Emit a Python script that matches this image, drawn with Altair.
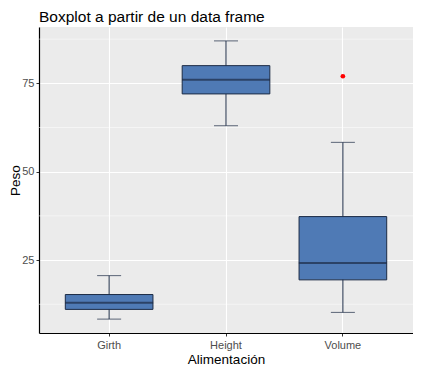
import altair as alt
import pandas as pd

categories = ["Girth", "Height", "Volume"]
whisker_low = [8.3, 63.0, 10.2]
q1 = [11.05, 72.0, 19.4]
median = [12.9, 76.0, 24.2]
q3 = [15.25, 80.0, 37.3]
whisker_high = [20.6, 87.0, 58.3]
outlier_cat = ["Volume"]
outlier_val = [77.0]
minor_grid = [12.5, 37.5, 62.5, 87.5]

df = pd.DataFrame({"cat": categories, "lo": whisker_low, "q1": q1, "med": median,
                   "q3": q3, "hi": whisker_high})
out = pd.DataFrame({"cat": outlier_cat, "val": outlier_val})
grid = pd.DataFrame({"g": minor_grid})

yscale = alt.Scale(domain=[4.37, 90.93], nice=False, zero=False)
xscale = alt.Scale(domain=categories, paddingInner=0, paddingOuter=0.1)

xax = alt.Axis(title="Alimentación", labelAngle=0, grid=True, gridColor="white",
               gridWidth=1.1, domainColor="black", domainWidth=1.2, tickColor="#333333",
               tickSize=3, labelColor="#4d4d4d", labelFontSize=11, labelPadding=3,
               titleFontSize=13.5, titleFontWeight="normal", titleColor="black",
               titlePadding=2, labelFont="Liberation Sans", titleFont="Liberation Sans")
yax = alt.Axis(title="Peso", values=[25, 50, 75], grid=True, gridColor="white",
               gridWidth=1.1, domainColor="black", domainWidth=1.2, tickColor="#333333",
               tickSize=3, labelColor="#4d4d4d", labelFontSize=11, labelPadding=2,
               titleFontSize=13.5, titleFontWeight="normal", titleColor="black",
               titleX=-20, titleBaseline="alphabetic",
               labelFont="Liberation Sans", titleFont="Liberation Sans")

base = alt.Chart(df)

minor = alt.Chart(grid).mark_rule(color="white", strokeWidth=0.5).encode(
    y=alt.Y("g:Q", scale=yscale, axis=yax))

whisk = base.mark_rule(color="#1c2b45", strokeWidth=1).encode(
    x=alt.X("cat:N", scale=xscale, axis=xax, sort=categories),
    y=alt.Y("lo:Q", scale=yscale), y2="hi:Q")

caps_lo = base.mark_tick(color="#1c2b45", size=24, thickness=1).encode(
    x=alt.X("cat:N", scale=xscale, sort=categories), y=alt.Y("lo:Q", scale=yscale))
caps_hi = base.mark_tick(color="#1c2b45", size=24, thickness=1).encode(
    x=alt.X("cat:N", scale=xscale, sort=categories), y=alt.Y("hi:Q", scale=yscale))

box = base.mark_bar(width=alt.RelativeBandSize(0.75), fill="#4f7ab5", stroke="#1c2b45",
                    strokeWidth=1).encode(
    x=alt.X("cat:N", scale=xscale, sort=categories),
    y=alt.Y("q1:Q", scale=yscale), y2="q3:Q")

med = base.mark_tick(color="#1c2b45", size=88, thickness=2).encode(
    x=alt.X("cat:N", scale=xscale, sort=categories), y=alt.Y("med:Q", scale=yscale))

pts = alt.Chart(out).mark_circle(color="red", size=22, opacity=1).encode(
    x=alt.X("cat:N", scale=xscale, sort=categories), y=alt.Y("val:Q", scale=yscale))

chart = alt.layer(minor, whisk, caps_lo, caps_hi, box, med, pts).properties(
    width=374, height=306,
    title=alt.TitleParams("Boxplot a partir de un data frame", anchor="start",
                          frame="group",
                          font="Liberation Sans", fontSize=15.5, fontWeight="normal",
                          color="black", offset=2),
    autosize=alt.AutoSizeParams(type="none"),
    padding={"left": 31, "top": 19, "right": 0, "bottom": 32},
).configure_view(fill="#ebebeb", stroke=None)

chart.save("out.html", embed_options={"renderer": "svg", "actions": False})
